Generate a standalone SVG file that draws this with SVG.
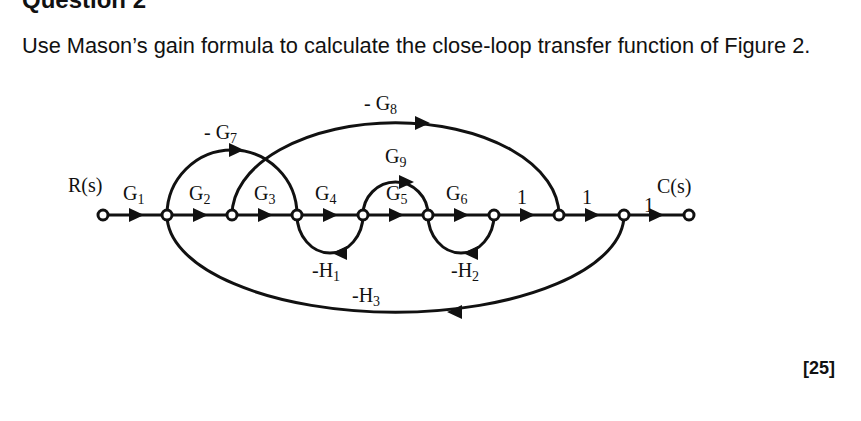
<svg xmlns="http://www.w3.org/2000/svg" width="861" height="421" viewBox="0 0 861 421">
<style>
.e{fill:none;stroke:#111;stroke-width:3}
.n{fill:#fff;stroke:#111;stroke-width:3}
.t{font-family:"Liberation Serif",serif;font-size:20px;fill:#111}
.s{font-size:14px}
.h{font-family:"Liberation Sans",Arial,sans-serif;font-size:21.8px;fill:#111}
</style>
<rect width="861" height="421" fill="#fff"/>
<text x="22" y="8" font-family="Liberation Sans,sans-serif" font-weight="bold" font-size="24" fill="#111">Question 2</text>
<text x="22" y="53" class="h">Use Mason’s gain formula to calculate the close-loop transfer function of Figure 2.</text>
<text x="803" y="374" font-family="Liberation Sans,sans-serif" font-weight="bold" font-size="18" fill="#111">[25]</text>
<g id="connectors">
<line class="e" x1="103" y1="215" x2="689" y2="215"/>
<path class="e" d="M167,215 A65,65 0 0 1 297,215"/>
<path class="e" d="M232,215 A163,92 0 0 1 559,215"/>
<path class="e" d="M363,215 A32.5,33 0 0 1 428,215"/>
<path class="e" d="M297,215 A33,38 0 0 0 363,215"/>
<path class="e" d="M428,215 A33,38 0 0 0 494,215"/>
<path class="e" d="M624,215 A228,97 0 0 1 167,215"/>
<g fill="#111">
<path d="M129,208 L144,215 L129,222 Z"/>
<path d="M193,208 L208,215 L193,222 Z"/>
<path d="M258,208 L273,215 L258,222 Z"/>
<path d="M323,208 L338,215 L323,222 Z"/>
<path d="M389,208 L404,215 L389,222 Z"/>
<path d="M454,208 L469,215 L454,222 Z"/>
<path d="M520,208 L535,215 L520,222 Z"/>
<path d="M585,208 L600,215 L585,222 Z"/>
<path d="M649,208 L664,215 L649,222 Z"/>
<path d="M229,143 L244,150 L229,157 Z"/>
<path d="M415,116 L430,123 L415,130 Z"/>
<path d="M399,175 L414,182 L399,189 Z"/>
<path d="M347,246 L332,253 L347,260 Z"/>
<path d="M478,246 L463,253 L478,260 Z"/>
<path d="M462,305 L447,312 L462,319 Z"/>
</g>
</g>
<g id="n1"><circle class="n" cx="103" cy="215" r="5"/></g>
<g id="n2"><circle class="n" cx="167" cy="215" r="5"/></g>
<g id="n3"><circle class="n" cx="232" cy="215" r="5"/></g>
<g id="n4"><circle class="n" cx="297" cy="215" r="5"/></g>
<g id="n5"><circle class="n" cx="363" cy="215" r="5"/></g>
<g id="n6"><circle class="n" cx="428" cy="215" r="5"/></g>
<g id="n7"><circle class="n" cx="494" cy="215" r="5"/></g>
<g id="n8"><circle class="n" cx="559" cy="215" r="5"/></g>
<g id="n9"><circle class="n" cx="624" cy="215" r="5"/></g>
<g id="n10"><circle class="n" cx="689" cy="215" r="5"/></g>
<g id="labels">
<text class="t" x="68" y="192">R(s)</text>
<text class="t" x="123" y="200">G<tspan class="s" dy="4">1</tspan></text>
<text class="t" x="189" y="200">G<tspan class="s" dy="4">2</tspan></text>
<text class="t" x="254" y="200">G<tspan class="s" dy="4">3</tspan></text>
<text class="t" x="315" y="200">G<tspan class="s" dy="4">4</tspan></text>
<text class="t" x="386" y="200">G<tspan class="s" dy="4">5</tspan></text>
<text class="t" x="446" y="200">G<tspan class="s" dy="4">6</tspan></text>
<text class="t" x="517" y="204">1</text>
<text class="t" x="582" y="204">1</text>
<text class="t" x="644" y="212">1</text>
<text class="t" x="657" y="193">C(s)</text>
<text class="t" x="204" y="139">- G<tspan class="s" dy="4">7</tspan></text>
<text class="t" x="364" y="110">- G<tspan class="s" dy="4">8</tspan></text>
<text class="t" x="385" y="163">G<tspan class="s" dy="4">9</tspan></text>
<text class="t" x="312" y="277">-H<tspan class="s" dy="4">1</tspan></text>
<text class="t" x="451" y="277">-H<tspan class="s" dy="4">2</tspan></text>
<text class="t" x="352" y="302">-H<tspan class="s" dy="4">3</tspan></text>
</g>
</svg>
